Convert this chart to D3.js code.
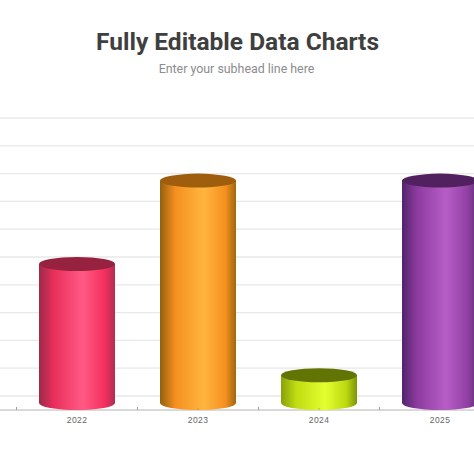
<!DOCTYPE html>
<html>
<head>
<meta charset="utf-8">
<script src="https://d3js.org/d3.v7.min.js"></script>
<style>
  html, body { margin: 0; padding: 0; background: #fff; }
  svg { display: block; }
</style>
</head>
<body>
<svg id="chart" width="474" height="474"></svg>
<script>
const years = ["2022", "2023", "2024", "2025"];
const values = [50, 80, 10, 80];
const yTicks = [0, 10, 20, 30, 40, 50, 60, 70, 80, 90, 100];
const titleText = "Fully Editable Data Charts";
const subheadText = "Enter your subhead line here";

// side shading runs dark edge -> base -> highlight -> base -> dark edge
const sideStops = [0, 0.2, 0.58, 0.86, 1];
const sideColors = [
  ["#9c2a4a", "#ea2f5c", "#ff5a84", "#f52f5e", "#b02e54"],
  ["#93600f", "#f58f20", "#ffb63e", "#f58f20", "#a0680f"],
  ["#8aa00a", "#c0dc12", "#e4ff30", "#bcd810", "#7c9408"],
  ["#52246c", "#8d3b9f", "#b65ec6", "#9240a4", "#60307a"],
];
const topColors = ["#96223f", "#9e5e0e", "#627404", "#50205f"];

const svg = d3.select("#chart");
const width = 474;
const RX = 38;
const RY = 7;

const x = d3.scaleBand().domain(years).range([16.5, 500.5]);
const y = d3.scaleLinear().domain([0, 100]).range([396, 118]);
const floor = y(0) + 2 * RY;

const title = svg.append("g").attr("text-anchor", "middle");
title.append("text")
  .attr("x", 237.5).attr("y", 50)
  .style("font", "700 24.5px Roboto")
  .style("fill", "#3f3f3f")
  .text(titleText);
title.append("text")
  .attr("x", 236.5).attr("y", 73)
  .style("font", "12.4px Roboto")
  .style("fill", "#8c8c8c")
  .text(subheadText);

// gridlines
svg.append("g")
  .selectAll("line")
  .data(yTicks)
  .join("line")
  .attr("x1", 0).attr("x2", width)
  .attr("y1", (d) => y(d)).attr("y2", (d) => y(d))
  .attr("stroke", "#e8e8e8")
  .attr("stroke-width", 1.3);

// gradients for the cylinder sides
const defs = svg.append("defs");
sideColors.forEach((colors, i) => {
  const grad = defs.append("linearGradient")
    .attr("id", "side" + i)
    .attr("x1", "0%").attr("x2", "100%")
    .attr("y1", "0%").attr("y2", "0%");
  grad.selectAll("stop")
    .data(colors)
    .join("stop")
    .attr("offset", (d, j) => sideStops[j])
    .attr("stop-color", (d) => d);
});

// x axis sits on the front of the floor, ticks at the band edges
const axis = svg.append("g")
  .attr("transform", `translate(0,${floor})`)
  .call(d3.axisBottom(x).tickSize(0).tickPadding(7));
axis.select(".domain").remove();
axis.append("line")
  .attr("x1", 0).attr("x2", width)
  .attr("stroke", "#b4b4b4").attr("stroke-width", 1);
axis.selectAll(".edge")
  .data(years)
  .join("line")
  .attr("class", "edge")
  .attr("x1", (d) => x(d)).attr("x2", (d) => x(d))
  .attr("y1", -3).attr("y2", 0)
  .attr("stroke", "#a0a0a0");
axis.selectAll(".tick text")
  .style("font", "8.5px 'Liberation Sans'")
  .style("letter-spacing", "0.4px")
  .style("fill", "#666");

// cylinders
const bars = svg.append("g")
  .selectAll("g")
  .data(years)
  .join("g")
  .attr("transform", (d) => `translate(${x(d) + x.bandwidth() / 2},0)`);

bars.append("path")
  .attr("d", (d, i) => {
    const top = y(values[i]) + RY;
    const bottom = y(0) + RY;
    return `M${-RX},${top}L${-RX},${bottom}A${RX},${RY} 0 0 0 ${RX},${bottom}L${RX},${top}Z`;
  })
  .attr("fill", (d, i) => `url(#side${i})`);

bars.append("ellipse")
  .attr("cy", (d, i) => y(values[i]) + RY)
  .attr("rx", RX).attr("ry", RY)
  .attr("fill", (d, i) => topColors[i]);

// small tick mark under each cylinder centre
bars.append("line")
  .attr("y1", floor - 2).attr("y2", floor)
  .attr("stroke", "#8a8a8a")
  .attr("stroke-opacity", 0.6);
</script>
</body>
</html>
